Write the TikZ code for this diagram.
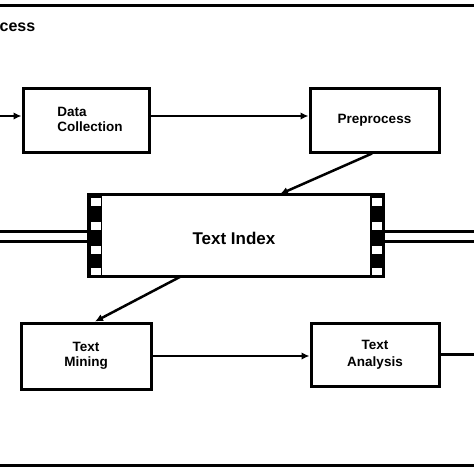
\documentclass[tikz,border=0pt]{standalone}
\usepackage{fontspec}
\setmainfont{Liberation Sans}
\usetikzlibrary{arrows.meta,calc}
\begin{document}
\begin{tikzpicture}[x=1pt,y=-1pt,
  box/.style={draw,line width=3pt,inner sep=0pt,align=center,font=\bfseries\fontsize{13.5}{15}\selectfont},
  conn/.style={line width=2.5pt,-{Latex[length=8pt,width=7.5pt]}},
  plain/.style={line width=2.5pt},
  rule/.style={line width=3pt},
  strip/.style={fill=black},
  hole/.style={fill=white}]
\useasboundingbox (0,0) rectangle (474,474);
% frame lines
\coordinate (tl) at (0,5.5); \coordinate (tr) at (474,5.5);
\coordinate (bl) at (0,465); \coordinate (br) at (474,465);
\draw[rule] (tl) -- (tr);
\draw[rule] (bl) -- (br);
\node[anchor=west,inner sep=0pt,font=\bfseries\fontsize{16}{18}\selectfont] (title) at (-0.5,27) {cess};
% boxes
\node[box,minimum width=126pt,minimum height=64pt] (dc) at (86,120) {};
\node[align=left,inner sep=0pt,font=\bfseries\fontsize{13.5}{15}\selectfont] (dct) at (90,119.5) {Data\\Collection};
\node[box,minimum width=129pt,minimum height=64pt] (pre) at (374.5,120) {Preprocess};
\node[box,minimum width=130pt,minimum height=66pt] (tm) at (86,356) {Text\\Mining};
\node[box,minimum width=128pt,minimum height=63pt,font=\bfseries\fontsize{13.5}{17}\selectfont] (ta) at (375,354.5) {Text\\Analysis};
% text index
\node[draw,line width=1.8pt,minimum width=294pt,minimum height=81pt,inner sep=0pt] (ti) at (236,235.5) {};
\fill[strip] (89,195) rectangle (102,276);
\fill[strip] (370,195) rectangle (383,276);
\foreach \ya/\yb in {197.5/206,221.5/229.5,245.5/253.5,268/275}{
  \fill[hole] (91,\ya) rectangle (100.5,\yb);
  \fill[hole] (372,\ya) rectangle (381.5,\yb);
}
\draw[line width=1.8pt] (ti.north west) rectangle (ti.south east);
\node[font=\bfseries\fontsize{17}{20}\selectfont,inner sep=0pt] (tit) at (234,238) {Text Index};
% double lines
\coordinate (l1) at (0,231.5); \coordinate (l2) at (0,241.5);
\coordinate (r1) at (474,231.5); \coordinate (r2) at (474,241.5);
\draw[line width=3pt] (l1) -- (l1 -| ti.west);
\draw[line width=3pt] (l2) -- (l2 -| ti.west);
\draw[line width=3pt] (r1) -- (r1 -| ti.east);
\draw[line width=3pt] (r2) -- (r2 -| ti.east);
% connectors
\coordinate (in) at (0,116);
\draw[conn] (in) -- (in -| dc.west);
\draw[conn] ([yshift=4pt]dc.east) -- ([yshift=4pt]pre.west);
\draw[conn] ($(pre.south)+(-2.5,0)$) -- ($(ti.north)+(44,0)$);
\draw[conn] ($(ti.south)+(-56,0)$) -- ($(tm.north)+(9,0)$);
\draw[conn] (tm.east) -- (tm.east -| ta.west);
\coordinate (out) at (474,354.5);
\draw[plain] (ta.east) -- (out);
\end{tikzpicture}
\end{document}
